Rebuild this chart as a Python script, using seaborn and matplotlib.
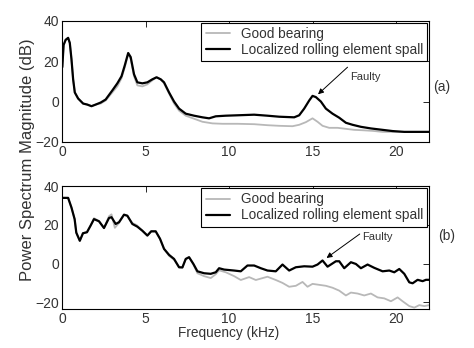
import matplotlib
matplotlib.use("Agg")
import matplotlib.pyplot as plt
import seaborn as sns

# ---------------- data ----------------
# (a) top panel
freq_a_spall = [0, 0.08, 0.2, 0.35, 0.45, 0.55, 0.65, 0.75, 0.95, 1.25, 1.5, 1.75, 2.0, 2.3, 2.6,
                3.0, 3.3, 3.55, 3.75, 3.95, 4.1, 4.3, 4.5, 4.8, 5.1, 5.4, 5.65, 5.9, 6.1, 6.4,
                6.7, 7.0, 7.4, 7.9, 8.4, 8.8, 9.2, 9.8, 10.5, 11.5, 12.3, 13.0, 13.9, 14.2, 14.5,
                14.8, 15.0, 15.2, 15.5, 15.8, 16.2, 16.6, 17.0, 17.4, 17.9, 18.5, 19.2, 19.8,
                20.5, 21.2, 22.0]
db_a_spall = [17, 28, 30.5, 31.5, 29, 21, 11, 4.5, 1.5, -1, -1.5, -2.3, -1.5, -0.5, 1,
              5.5, 9, 12.5, 18, 24, 22, 13.5, 9.5, 9, 9.5, 11, 12, 11, 9.5, 4.5,
              0, -3.5, -6, -7, -7.8, -8.3, -7.3, -7, -6.8, -6.5, -7, -7.5, -7.8, -6.8, -3.5,
              0.5, 2.8, 2.2, 0, -3.5, -6, -8, -10.5, -11.5, -12.5, -13.3, -14, -14.6,
              -15, -15, -15]
freq_a_good = [0, 0.08, 0.2, 0.35, 0.45, 0.55, 0.65, 0.75, 0.95, 1.25, 1.5, 1.75, 2.0, 2.3, 2.6,
               3.0, 3.3, 3.55, 3.75, 3.95, 4.1, 4.3, 4.5, 4.8, 5.1, 5.4, 5.65, 5.9, 6.1, 6.4,
               6.7, 7.0, 7.4, 7.9, 8.4, 9.0, 9.6, 10.5, 11.5, 12.3, 13.0, 13.8, 14.2, 14.6,
               15.0, 15.3, 15.6, 16.0, 16.5, 17.0, 17.5, 18.0, 18.6, 19.2, 20.0, 21.0, 22.0]
db_a_good = [17, 28, 30.5, 31.5, 29, 21, 11, 4.5, 1.5, -1, -1.5, -2.3, -1.5, -1, 0.5,
             4.5, 7.5, 11.5, 17, 23.5, 21, 12.5, 8, 7.5, 8.5, 10.5, 12, 11, 9, 4,
             -1, -4.5, -7, -8.5, -10, -10.8, -11, -11, -11.2, -11.7, -12, -12.2, -11.5, -10.2,
             -8.3, -10, -12, -13, -13, -13.5, -14, -14.2, -14.5, -15, -15, -15, -15]

# (b) bottom panel
freq_b_spall = [0, 0.35, 0.55, 0.74, 0.84, 1.05, 1.24, 1.48, 1.7, 1.9, 2.2, 2.5, 2.8, 2.95, 3.2,
                3.4, 3.7, 3.9, 4.2, 4.5, 4.8, 5.1, 5.33, 5.6, 5.86, 6.1, 6.4, 6.7, 7.0, 7.2,
                7.4, 7.6, 7.86, 8.1, 8.5, 8.9, 9.2, 9.4, 9.7, 10.3, 10.7, 11.1, 11.5, 11.9, 12.3,
                12.8, 13.2, 13.6, 14.0, 14.5, 15.0, 15.3, 15.6, 15.9, 16.4, 16.6, 16.9, 17.3,
                17.6, 17.9, 18.3, 18.7, 19.2, 19.6, 19.9, 20.2, 20.5, 20.8, 21.0, 21.3, 21.6,
                21.8, 22.0]
db_b_spall = [34, 34, 29, 23, 16, 11.8, 15.7, 16.2, 19.7, 23, 21.9, 18.4, 23.6, 24, 20.5,
              21.4, 25.3, 24.8, 20.5, 19.1, 17, 14.5, 16.7, 16.7, 12.8, 7.6, 4.5, 2.4, -1.9, -2,
              2.4, 3.3, -0.2, -4, -5, -5.3, -4.5, -2.4, -3.1, -3.6, -4, -1, -1, -2.4, -3.6,
              -4, -0.5, -3.6, -1.9, -1.4, -1.6, -0.5, 1.6, -1.6, 1.2, 1.2, -2.4, 0.7,
              -0.2, -2.4, -0.5, -2.2, -4, -3.6, -4.5, -2.8, -5.3, -9.7, -10.2, -8.4, -9.1,
              -8.4, -8.4]
freq_b_good = [0, 0.35, 0.55, 0.74, 0.84, 1.05, 1.24, 1.48, 1.7, 1.9, 2.2, 2.5, 2.8, 2.95, 3.15,
               3.4, 3.7, 3.9, 4.2, 4.45, 4.8, 5.1, 5.33, 5.6, 5.86, 6.1, 6.4, 6.7, 7.0, 7.2,
               7.4, 7.6, 7.86, 8.1, 8.5, 8.9, 9.2, 9.4, 9.8, 10.3, 10.7, 11.2, 11.6, 12.3, 12.8,
               13.2, 13.6, 14.0, 14.4, 14.7, 15.0, 15.4, 15.8, 16.2, 16.6, 17.0, 17.3, 17.7,
               18.1, 18.5, 18.9, 19.3, 19.7, 20.1, 20.4, 20.8, 21.1, 21.4, 21.7, 22.0]
db_b_good = [34, 34, 29, 23, 16, 11.8, 15.7, 16.5, 19.7, 23.5, 22, 18.4, 24.5, 25.5, 18.5,
             21, 25.3, 24.5, 21, 20, 17, 14.5, 16.7, 16.5, 12.8, 7.6, 4, 2, -2, -2,
             2.4, 3.3, -0.5, -5, -6.5, -7.5, -5.5, -3.5, -4.5, -6.5, -8.5, -7, -8.5, -6.8, -8.5,
             -10, -12, -11.5, -9.5, -12, -10.5, -11, -11.5, -12.5, -14, -16.5, -15, -15.5,
             -16.5, -15.5, -17.5, -18, -19.5, -17.5, -19.5, -22, -22.8, -21.5, -22, -21.5]

labels = ["Good bearing", "Localized rolling element spall"]
x_ticks = [0, 5, 10, 15, 20]
y_ticks = [-20, 0, 20, 40]
panel_tags = ["(a)", "(b)"]

# ---------------- style ----------------
sns.set_style("white")
plt.rcParams["font.family"] = ["Liberation Sans", "DejaVu Sans"]

GRAY = "#b8b8b8"
TXT = "#333333"

fig = plt.figure(figsize=(4.74, 3.48), dpi=100)
ax_a = fig.add_axes([0.1314, 0.5920, 0.7743, 0.3486])
ax_b = fig.add_axes([0.1314, 0.1121, 0.7743, 0.3526])

panels = [
    (ax_a, freq_a_good, db_a_good, freq_a_spall, db_a_spall, (-20, 40)),
    (ax_b, freq_b_good, db_b_good, freq_b_spall, db_b_spall, (-23.5, 40)),
]

for ax, fg, dg, fs, ds, ylim in panels:
    sns.lineplot(x=fg, y=dg, ax=ax, color=GRAY, lw=1.3, label=labels[0])
    sns.lineplot(x=fs, y=ds, ax=ax, color="black", lw=1.6, label=labels[1])
    ax.set_xlim(0, 22)
    ax.set_ylim(*ylim)
    ax.set_xticks(x_ticks)
    ax.set_yticks(y_ticks)
    ax.tick_params(direction="in", length=4, width=0.7, top=True, right=True,
                   labelsize=10, labelcolor=TXT, pad=2.5)
    for sp in ax.spines.values():
        sp.set_color("black")
        sp.set_linewidth(0.8)
        sp.set_visible(True)
    leg = ax.legend(loc="upper right", frameon=True, fancybox=False, edgecolor="black",
                    framealpha=1, borderaxespad=0.15, fontsize=9.8, handlelength=1.8,
                    borderpad=0.3, labelspacing=0.15, handletextpad=0.8)
    leg.get_frame().set_linewidth(0.8)
    for t in leg.get_texts():
        t.set_color(TXT)
    ax.set_xlabel("")
    ax.set_ylabel("")

# annotations
arrow = dict(arrowstyle="-|>", color="black", lw=0.7, mutation_scale=8, shrinkA=0, shrinkB=0)
ax_a.annotate("", xy=(15.33, 3.6), xytext=(17.1, 17.0), arrowprops=arrow)
ax_a.text(17.25, 12.2, "Faulty", fontsize=8, ha="left", va="center", color=TXT)
ax_b.annotate("", xy=(15.84, 2.9), xytext=(17.83, 15.3), arrowprops=arrow)
ax_b.text(17.95, 13.5, "Faulty", fontsize=8, ha="left", va="center", color=TXT)

fig.text(442 / 474, 1 - 87 / 348, panel_tags[0], fontsize=10, ha="center", va="center", color=TXT)
fig.text(447 / 474, 1 - 236 / 348, panel_tags[1], fontsize=10, ha="center", va="center", color=TXT)

fig.text(28 / 474, 1 - 160 / 348, "Power Spectrum Magnitude (dB)", rotation=90,
         fontsize=12, ha="center", va="center", color=TXT)
fig.text(229 / 474, 1 - 333 / 348, "Frequency (kHz)", fontsize=9.8,
         ha="center", va="center", color=TXT)

fig.savefig("out.png", dpi=100)
